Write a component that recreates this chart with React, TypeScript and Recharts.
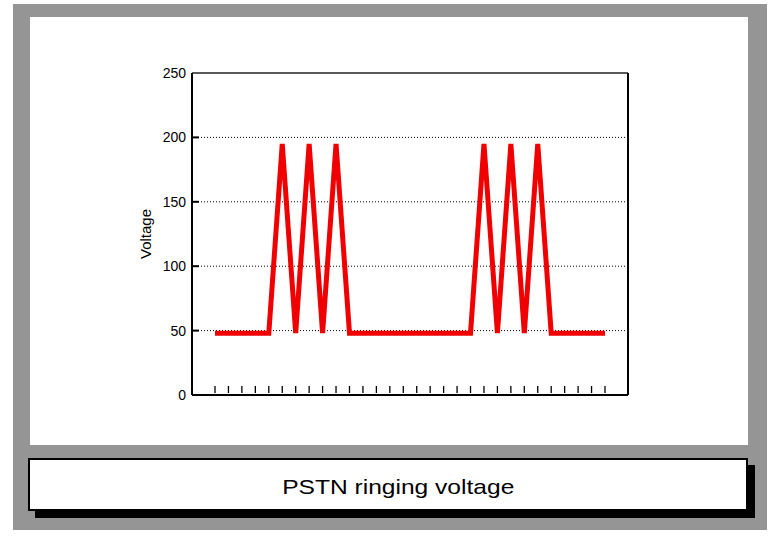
import React from 'react';
import { LineChart, Line, XAxis, YAxis, CartesianGrid } from 'recharts';

const sampleIndex: number[] = [0,1,2,3,4,5,6,7,8,9,10,11,12,13,14,15,16,17,18,19,20,21,22,23,24,25,26,27,28,29];
const voltage: number[] = [48,48,48,48,48,195,48,195,48,195,48,48,48,48,48,48,48,48,48,48,195,48,195,48,195,48,48,48,48,48];
const yTicks: number[] = [0, 50, 100, 150, 200, 250];
const yLabel = 'Voltage';
const caption = 'PSTN ringing voltage';

const data = sampleIndex.map((t, i) => ({ t, v: voltage[i] }));

const FONT = '"Liberation Sans", Arial, Helvetica, sans-serif';

const YTick = (props: any) => {
  const { x, y, payload } = props;
  return (
    <g>
      <text x={x} y={y} dy="0.36em" textAnchor="end" fontFamily={FONT} fontSize={14} fill="#000">
        {payload.value}
      </text>
      {payload.value !== 0 && payload.value !== 250 ? (
        <line x1={x + 6} x2={x + 13} y1={y} y2={y} stroke="#000" strokeWidth={2} />
      ) : null}
    </g>
  );
};

const XTick = (props: any) => {
  const { x, y } = props;
  return <line x1={x} x2={x} y1={y - 9} y2={y - 2} stroke="#000" strokeWidth={1.3} />;
};

export default function App() {
  return (
    <div style={{ position: 'absolute', left: 0, top: 0, width: 780, height: 540, background: '#fff', overflow: 'hidden' }}>
      <div style={{ position: 'absolute', left: 13, top: 4, width: 754, height: 526, background: '#959595' }} />
      <div style={{ position: 'absolute', left: 30, top: 17, width: 718, height: 428, background: '#fff' }} />
      <div style={{ position: 'absolute', left: 0, top: 0 }}>
        <LineChart width={780} height={540} data={data} margin={{ top: 72, right: 151, bottom: 144, left: 0 }}>
          <CartesianGrid vertical={false} horizontalValues={[50, 100, 150, 200]} stroke="#000" strokeDasharray="1 2" />
          <XAxis
            dataKey="t"
            type="number"
            domain={[0, 29]}
            ticks={sampleIndex}
            padding={{ left: 23, right: 23 }}
            height={1}
            tickSize={0}
            tickMargin={0}
            tickLine={false}
            tick={<XTick />}
            axisLine={{ stroke: '#000', strokeWidth: 2 }}
            interval={0}
          />
          <XAxis
            xAxisId="top"
            orientation="top"
            dataKey="t"
            type="number"
            domain={[0, 29]}
            padding={{ left: 23, right: 23 }}
            height={1}
            tick={false}
            tickLine={false}
            axisLine={{ stroke: '#5a5a5a', strokeWidth: 2 }}
          />
          <YAxis
            domain={[0, 250]}
            ticks={yTicks}
            width={192}
            tickSize={0}
            tickMargin={6}
            tickLine={false}
            tick={<YTick />}
            interval={0}
            axisLine={{ stroke: '#000', strokeWidth: 2 }}
            label={{
              content: () => (
                <text x={151} y={234} transform="rotate(-90 151 234)" textAnchor="middle" fontFamily={FONT} fontSize={15} fill="#000">
                  {yLabel}
                </text>
              ),
            }}
          />
          <YAxis
            yAxisId="right"
            orientation="right"
            domain={[0, 250]}
            width={1}
            tick={false}
            tickLine={false}
            axisLine={{ stroke: '#000', strokeWidth: 2 }}
          />
          <Line
            type="linear"
            dataKey="v"
            stroke="#f00000"
            strokeWidth={5}
            dot={false}
            strokeLinejoin="miter"
            isAnimationActive={false}
          />
        </LineChart>
      </div>
      <div
        style={{
          position: 'absolute',
          left: 28,
          top: 458,
          width: 720,
          height: 53,
          boxSizing: 'border-box',
          border: '2px solid #000',
          background: '#fff',
          boxShadow: '7px 7px 0 #000',
          display: 'flex',
          alignItems: 'center',
          justifyContent: 'center',
        }}
      >
        <div
          style={{
            fontFamily: FONT,
            fontSize: 21,
            color: '#000',
            transform: 'translate(10px, 2px) scaleX(1.17)',
            whiteSpace: 'nowrap',
          }}
        >
          {caption}
        </div>
      </div>
    </div>
  );
}
